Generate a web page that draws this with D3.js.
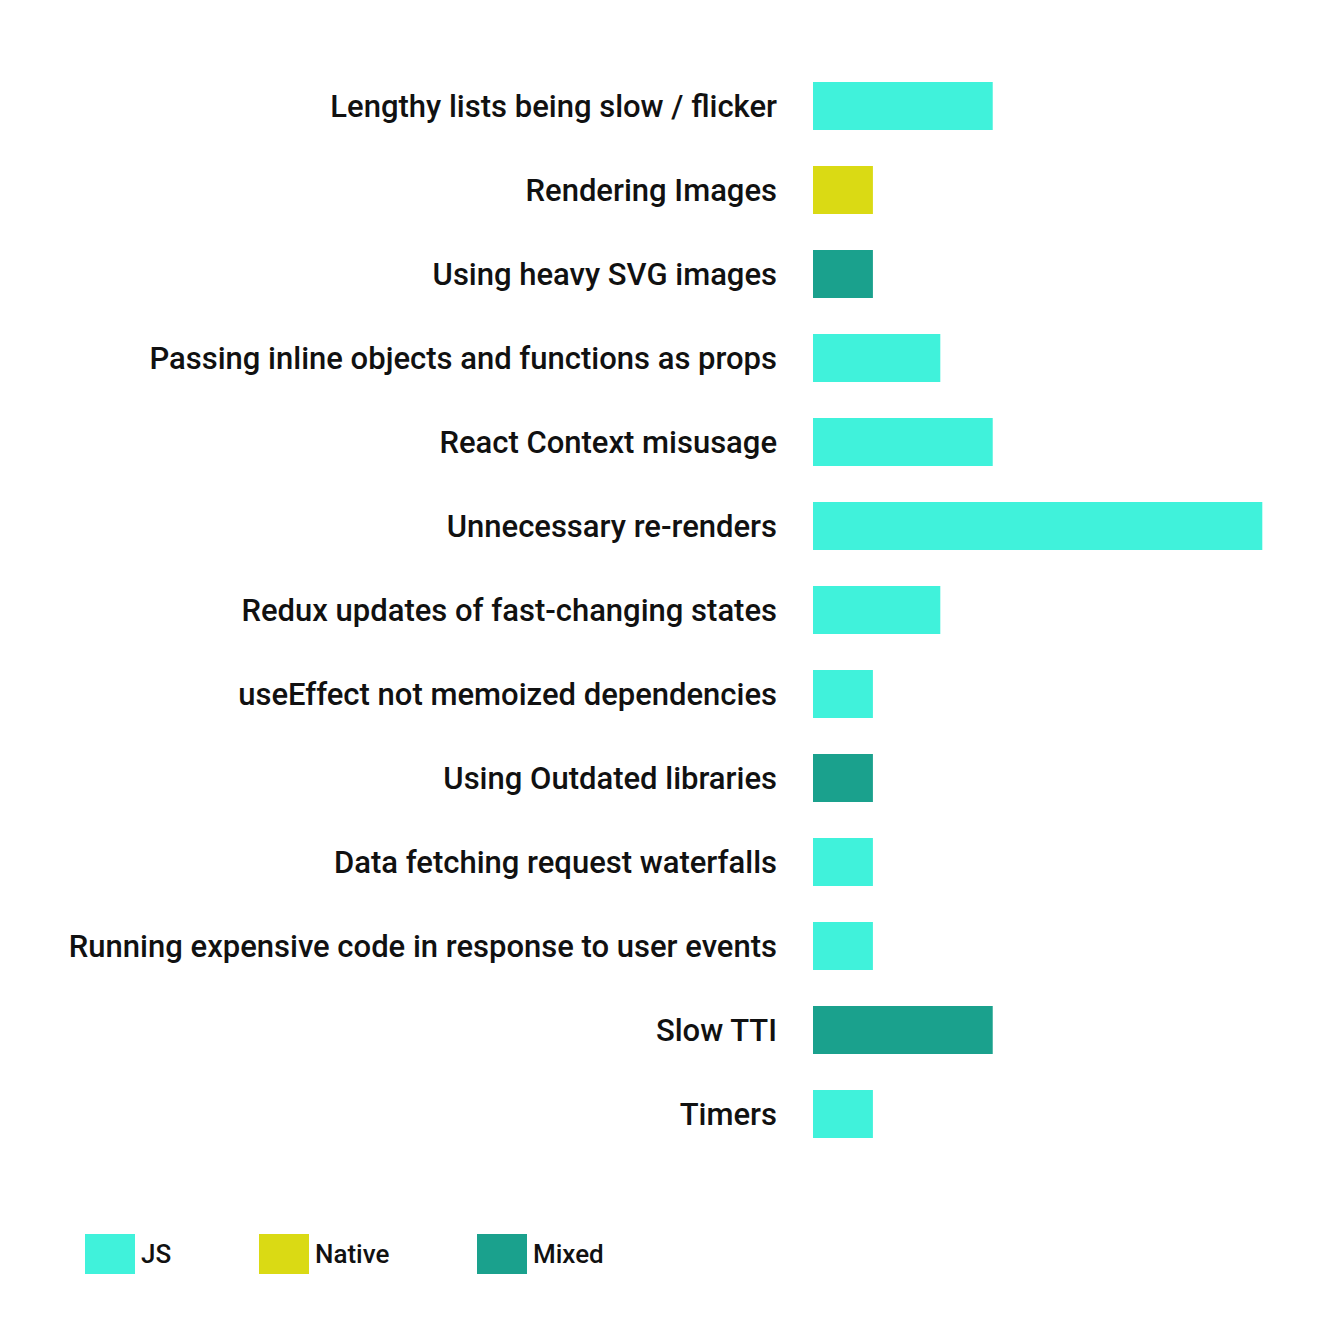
<!DOCTYPE html>
<html><head><meta charset="utf-8">
<script src="https://cdn.jsdelivr.net/npm/d3@7"></script>
<style>body{margin:0;background:#fff}svg{display:block}</style>
</head><body>
<script>
const categories = ["Lengthy lists being slow / flicker","Rendering Images","Using heavy SVG images","Passing inline objects and functions as props","React Context misusage","Unnecessary re-renders","Redux updates of fast-changing states","useEffect not memoized dependencies","Using Outdated libraries","Data fetching request waterfalls","Running expensive code in response to user events","Slow TTI","Timers"];
const values = [24, 8, 8, 17, 24, 60, 17, 8, 8, 8, 8, 24, 8];
const types = ["JS","Native","Mixed","JS","JS","JS","JS","JS","Mixed","JS","JS","Mixed","JS"];
const legendKeys = ["JS","Native","Mixed"];
const colors = ["#40F2DB","#DADA14","#1AA18D"];

const W = 1328, H = 1328;
const svg = d3.select("body").append("svg").attr("width", W).attr("height", H);
const font = "Roboto, 'Noto Sans', sans-serif";
const color = d3.scaleOrdinal().domain(legendKeys).range(colors);
const x = d3.scaleLinear().domain([0, 60]).range([813, 1262.3]);
const y = d3.scaleBand().domain(categories).range([64, 1156]).paddingInner(36/84).paddingOuter(18/84);

const data = categories.map((c,i)=>({c, v: values[i], t: types[i]}));
svg.append("g").selectAll("rect").data(data).join("rect")
  .attr("x", x(0)).attr("y", d=>y(d.c)).attr("width", d=>x(d.v)-x(0)).attr("height", y.bandwidth())
  .attr("fill", d=>color(d.t));

svg.append("g").selectAll("text").data(data).join("text")
  .attr("x", 777).attr("y", d=>y(d.c)+y.bandwidth()/2).attr("dy","0.37em")
  .attr("text-anchor","end").attr("font-family",font).attr("font-weight",500)
  .attr("font-size",31).attr("fill","#111").text(d=>d.c);

const lpos = [85, 259, 477];
const lg = svg.append("g").selectAll("g").data(legendKeys).join("g")
  .attr("transform",(d,i)=>`translate(${lpos[i]},1234)`);
lg.append("rect").attr("width",50).attr("height",40).attr("fill",d=>color(d));
lg.append("text").attr("x",56).attr("y",29.3).attr("font-family",font).attr("font-weight",500)
  .attr("font-size",26).attr("fill","#111").text(d=>d);
</script>
</body></html>
